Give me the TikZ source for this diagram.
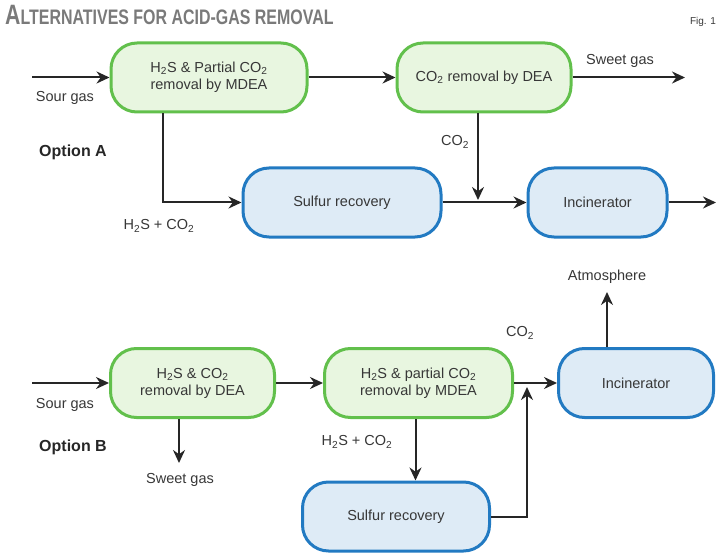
\documentclass[tikz,border=0pt]{standalone}
\usepackage{fontspec}
\setmainfont{Liberation Sans}
\usepackage{graphicx}
\usepackage{tikz}
\usetikzlibrary{arrows.meta}
\definecolor{procgreen}{RGB}{98,192,76}
\definecolor{procgreenfill}{RGB}{232,246,224}
\definecolor{recblue}{RGB}{34,122,194}
\definecolor{recbluefill}{RGB}{222,235,246}
\definecolor{txtgray}{RGB}{55,55,55}
\tikzset{every node/.append style={font=\fontsize{14.5}{17}\selectfont, text=txtgray}}

\begin{document}
\begin{tikzpicture}[x=1pt, y=-1pt, >={Stealth[length=13pt,width=12pt]},
    amine/.style={draw=procgreen, fill=procgreenfill, line width=3pt, rounded corners=26pt,
        minimum height=69pt, align=center, inner sep=0pt},
    burner/.style={amine, draw=recblue, fill=recbluefill},
    flow/.style={->, line width=2pt, draw=black!85},
    optlabel/.style={font=\fontsize{16}{19}\selectfont\bfseries, text=black!85}]
    \useasboundingbox (0,0) rectangle (720,556);

    % heading
    \node[anchor=base west, inner sep=0pt, text=black!52] (title) at (5,25)
        {\scalebox{0.76}[1]{\bfseries\fontsize{28}{28}\selectfont A\fontsize{21}{21}\selectfont LTERNATIVES FOR ACID-GAS REMOVAL}};
    \node[font=\fontsize{10}{12}\selectfont] (fig) at (703,22) {Fig. 1};

    % option A
    \node[amine, minimum width=196pt] (a1) at (209,77.5) {H\textsubscript{2}S \& Partial CO\textsubscript{2}\\removal by MDEA};
    \node[amine, minimum width=174pt] (a2) at (484,77.5) {CO\textsubscript{2} removal by DEA};
    \node[burner, minimum width=198pt] (asr) at (342,202.5) {Sulfur recovery};
    \node[burner, minimum width=139pt] (ainc) at (597.5,202.5) {Incinerator};
    \coordinate (ain) at (32,77.5);
    \coordinate (asweet) at (685,77.5);
    \coordinate (amix) at (478,200);
    \coordinate (aout) at (716,202.5);
    \draw[flow] (ain) -- (a1);
    \draw[flow] (a1) -- (a2);
    \draw[flow] (a2) -- (asweet);
    \draw[flow] ([xshift=-46pt]a1.south) |- (asr.west);
    \draw[flow] (a2.south -| amix) -- (amix);
    \draw[flow] (asr) -- (ainc);
    \draw[flow] (ainc) -- (aout);
    \node (asour) at (65,98) {Sour gas};
    \node (asweetl) at (620,61) {Sweet gas};
    \node (aco) at (455,142) {CO\textsubscript{2}};
    \node (ah2s) at (159,226) {H\textsubscript{2}S + CO\textsubscript{2}};
    \node[optlabel] (opta) at (73,152) {Option A};

    % option B
    \node[amine, minimum width=164pt] (b1) at (192.5,383) {H\textsubscript{2}S \& CO\textsubscript{2}\\removal by DEA};
    \node[amine, minimum width=188pt] (b2) at (418.5,383) {H\textsubscript{2}S \& partial CO\textsubscript{2}\\removal by MDEA};
    \node[burner, minimum width=155pt] (binc) at (636,383) {Incinerator};
    \node[burner, minimum width=187pt] (bsr) at (396,516.5) {Sulfur recovery};
    \coordinate (bin) at (32,383);
    \coordinate (bsweet) at (179,463);
    \coordinate (batm) at (607,292);
    \coordinate (bmix) at (527,387);
    \draw[flow] (bin) -- (b1);
    \draw[flow] (b1) -- (b2);
    \draw[flow] (b2) -- (binc);
    \draw[flow] (b1.south -| bsweet) -- (bsweet);
    \draw[flow] ([xshift=-3pt]b2.south) -- ([xshift=-3pt]b2.south |- bsr.north);
    \draw[flow] (bsr.east) -| (bmix);
    \draw[flow] (binc.north -| batm) -- (batm);
    \node (bsour) at (65,405) {Sour gas};
    \node (bsweetl) at (180,480) {Sweet gas};
    \node (bh2s) at (357,442) {H\textsubscript{2}S + CO\textsubscript{2}};
    \node (bco) at (520,333) {CO\textsubscript{2}};
    \node (batml) at (607,277) {Atmosphere};
    \node[optlabel] (optb) at (73,447) {Option B};
\end{tikzpicture}
\end{document}
